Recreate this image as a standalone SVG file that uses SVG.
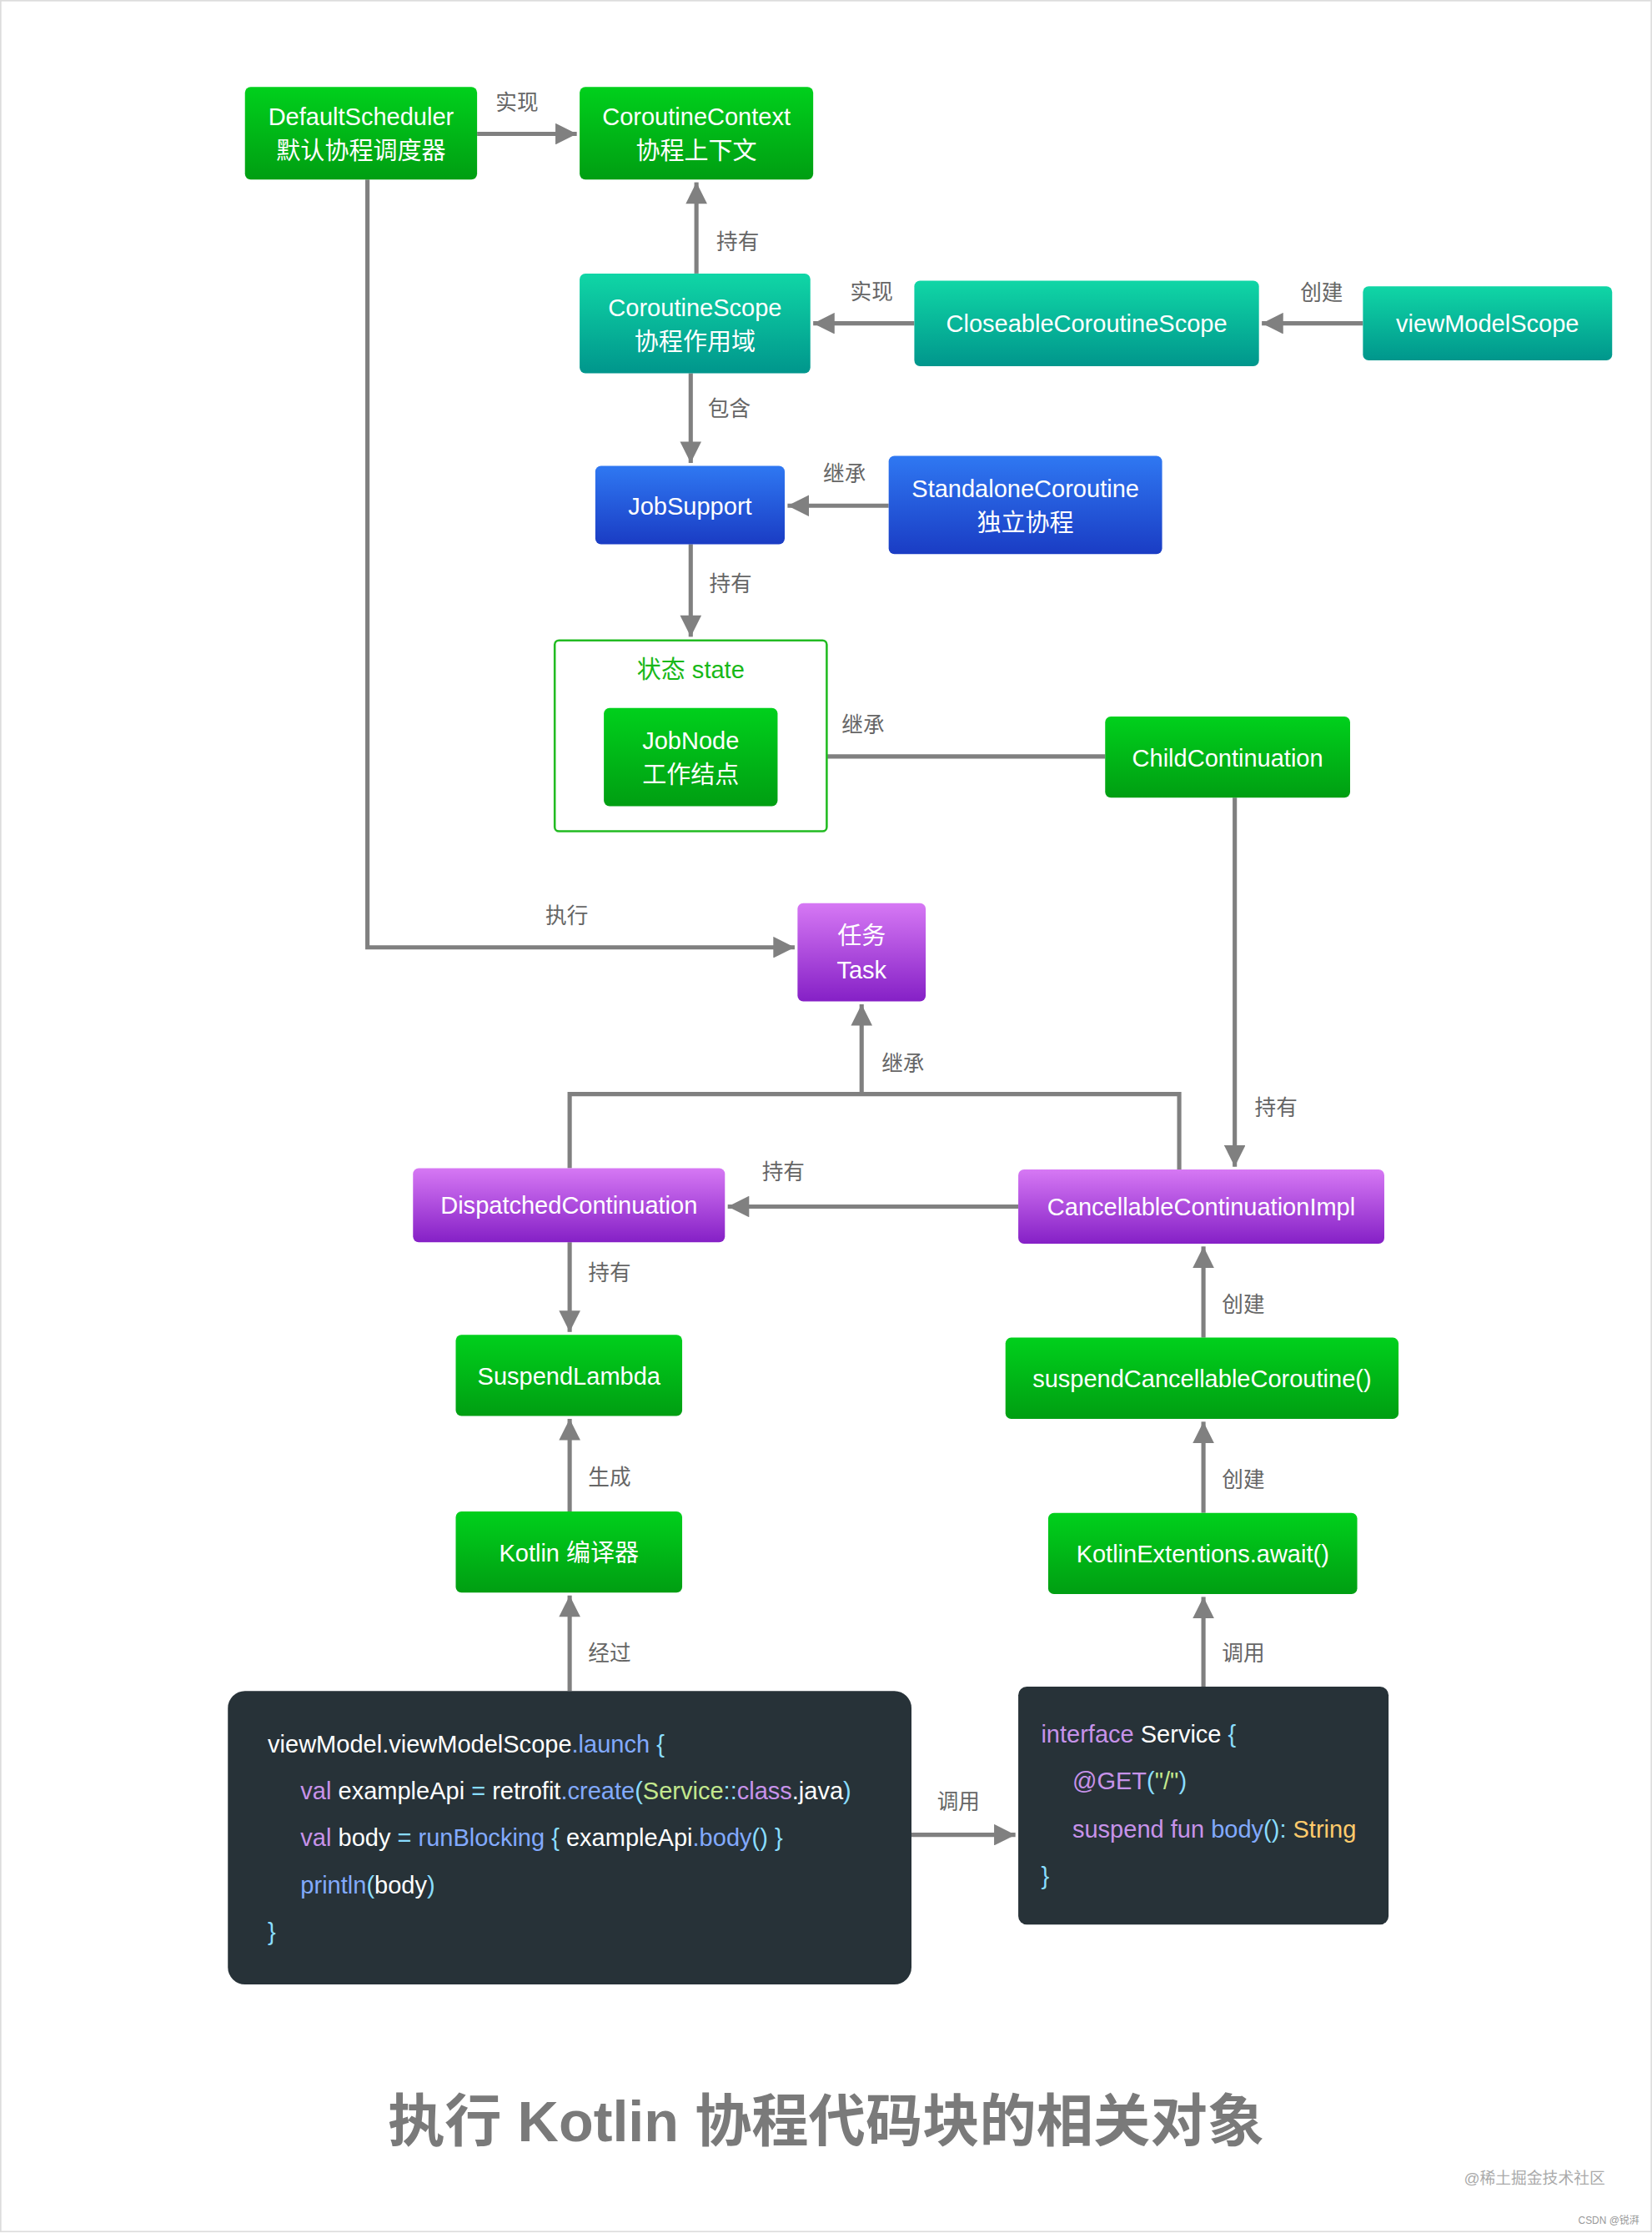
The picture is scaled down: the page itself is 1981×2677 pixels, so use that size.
<svg xmlns="http://www.w3.org/2000/svg" width="1981" height="2677" viewBox="0 0 1981 2677">
<style>
.nt{font-family:"Liberation Sans","Noto Sans CJK SC",sans-serif;font-size:17px;fill:#fff;text-anchor:middle}
.lb{font-family:"Liberation Sans","Noto Sans CJK SC",sans-serif;font-size:15px;fill:#666}
.cd{font-family:"Liberation Sans","Noto Sans CJK SC",sans-serif;font-size:17px;fill:#fff}
.w{fill:#fff}.p{fill:#c792ea}.b{fill:#82aaff}.c{fill:#89ddff}.g{fill:#c3e88d}.y{fill:#ffcb6b}
.ln{fill:none;stroke:#808080;stroke-width:3}
</style>
<defs>
<linearGradient id="gg" x1="0" y1="0" x2="0" y2="1"><stop offset="0" stop-color="#00d01c"/><stop offset="1" stop-color="#009e12"/></linearGradient>
<linearGradient id="gt" x1="0" y1="0" x2="0" y2="1"><stop offset="0" stop-color="#10d6a6"/><stop offset="1" stop-color="#00968c"/></linearGradient>
<linearGradient id="gb" x1="0" y1="0" x2="0" y2="1"><stop offset="0" stop-color="#2f78f2"/><stop offset="1" stop-color="#1a3cc4"/></linearGradient>
<linearGradient id="gp" x1="0" y1="0" x2="0" y2="1"><stop offset="0" stop-color="#d678f4"/><stop offset="1" stop-color="#8520c6"/></linearGradient>
<marker id="ar" viewBox="0 0 10 10" refX="10" refY="5" markerWidth="5.5" markerHeight="5" orient="auto" markerUnits="strokeWidth"><path d="M0,0L10,5L0,10z" fill="#808080"/></marker>
</defs>
<rect x="0" y="0" width="1981" height="2677" fill="#fff"/>
<g transform="scale(1.7078)">
<rect x="0.5" y="0.5" width="1159" height="1566" fill="none" stroke="#ddd"/>
<g id="connectors">
<path class="ln" d="M335,94H405" marker-end="url(#ar)"/>
<path class="ln" d="M489,192V128" marker-end="url(#ar)"/>
<path class="ln" d="M642,227H571" marker-end="url(#ar)"/>
<path class="ln" d="M957,227H886" marker-end="url(#ar)"/>
<path class="ln" d="M485,262V325" marker-end="url(#ar)"/>
<path class="ln" d="M624,355H553" marker-end="url(#ar)"/>
<path class="ln" d="M485,382V447" marker-end="url(#ar)"/>
<path class="ln" d="M776,531H548" marker-end="url(#ar)"/>
<path class="ln" d="M258,126V665H558" marker-end="url(#ar)"/>
<path class="ln" d="M400,820V768H828V821"/>
<path class="ln" d="M605,768V705" marker-end="url(#ar)"/>
<path class="ln" d="M867,560V819" marker-end="url(#ar)"/>
<path class="ln" d="M715,847H511" marker-end="url(#ar)"/>
<path class="ln" d="M400,872V935" marker-end="url(#ar)"/>
<path class="ln" d="M400,1061V996" marker-end="url(#ar)"/>
<path class="ln" d="M400,1187V1120" marker-end="url(#ar)"/>
<path class="ln" d="M845,939V875" marker-end="url(#ar)"/>
<path class="ln" d="M845,1062V998" marker-end="url(#ar)"/>
<path class="ln" d="M845,1184V1121" marker-end="url(#ar)"/>
<path class="ln" d="M640,1288H713" marker-end="url(#ar)"/>
<text class="lb" x="348" y="77">实现</text>
<text class="lb" x="503" y="175">持有</text>
<text class="lb" x="597" y="210">实现</text>
<text class="lb" x="913" y="211">创建</text>
<text class="lb" x="497" y="292">包含</text>
<text class="lb" x="578" y="338">继承</text>
<text class="lb" x="498" y="415">持有</text>
<text class="lb" x="591" y="514">继承</text>
<text class="lb" x="383" y="648">执行</text>
<text class="lb" x="619" y="752">继承</text>
<text class="lb" x="881" y="783">持有</text>
<text class="lb" x="535" y="828">持有</text>
<text class="lb" x="413" y="899">持有</text>
<text class="lb" x="413" y="1042">生成</text>
<text class="lb" x="413" y="1166">经过</text>
<text class="lb" x="858" y="921">创建</text>
<text class="lb" x="858" y="1044">创建</text>
<text class="lb" x="858" y="1166">调用</text>
<text class="lb" x="658" y="1270">调用</text>
</g>
<g id="defaultScheduler"><rect x="172" y="61" width="163" height="65" rx="4" fill="url(#gg)"/><text class="nt" x="253.5" y="88">DefaultScheduler</text><text class="nt" x="253.5" y="112">默认协程调度器</text></g>
<g id="coroutineContext"><rect x="407" y="61" width="164" height="65" rx="4" fill="url(#gg)"/><text class="nt" x="489" y="88">CoroutineContext</text><text class="nt" x="489" y="112">协程上下文</text></g>
<g id="coroutineScope"><rect x="407" y="192" width="162" height="70" rx="4" fill="url(#gt)"/><text class="nt" x="488" y="222">CoroutineScope</text><text class="nt" x="488" y="246">协程作用域</text></g>
<g id="closeable"><rect x="642" y="197" width="242" height="60" rx="4" fill="url(#gt)"/><text class="nt" x="763" y="233">CloseableCoroutineScope</text></g>
<g id="viewModelScope"><rect x="957" y="201" width="175" height="52" rx="4" fill="url(#gt)"/><text class="nt" x="1044.5" y="233">viewModelScope</text></g>
<g id="jobSupport"><rect x="418" y="327" width="133" height="55" rx="4" fill="url(#gb)"/><text class="nt" x="484.5" y="361">JobSupport</text></g>
<g id="standalone"><rect x="624" y="320" width="192" height="69" rx="4" fill="url(#gb)"/><text class="nt" x="720" y="349">StandaloneCoroutine</text><text class="nt" x="720" y="373">独立协程</text></g>
<g id="state"><rect x="389.5" y="449.5" width="191" height="134" rx="3" fill="#fff" stroke="#22bb22" stroke-width="1.5"/><text class="nt" x="485" y="476" style="fill:#18b818">状态 state</text></g>
<g id="jobNode"><rect x="424" y="497" width="122" height="69" rx="4" fill="url(#gg)"/><text class="nt" x="485" y="526">JobNode</text><text class="nt" x="485" y="550">工作结点</text></g>
<g id="childContinuation"><rect x="776" y="503" width="172" height="57" rx="4" fill="url(#gg)"/><text class="nt" x="862" y="538">ChildContinuation</text></g>
<g id="task"><rect x="560" y="634" width="90" height="69" rx="4" fill="url(#gp)"/><text class="nt" x="605" y="663">任务</text><text class="nt" x="605" y="687">Task</text></g>
<g id="dispatched"><rect x="290" y="820" width="219" height="52" rx="4" fill="url(#gp)"/><text class="nt" x="399.5" y="852">DispatchedContinuation</text></g>
<g id="cancellable"><rect x="715" y="821" width="257" height="52" rx="4" fill="url(#gp)"/><text class="nt" x="843.5" y="853">CancellableContinuationImpl</text></g>
<g id="suspendLambda"><rect x="320" y="937" width="159" height="57" rx="4" fill="url(#gg)"/><text class="nt" x="399.5" y="972">SuspendLambda</text></g>
<g id="suspendCC"><rect x="706" y="939" width="276" height="57" rx="4" fill="url(#gg)"/><text class="nt" x="844" y="974">suspendCancellableCoroutine()</text></g>
<g id="kotlinCompiler"><rect x="320" y="1061" width="159" height="57" rx="4" fill="url(#gg)"/><text class="nt" x="399.5" y="1096">Kotlin 编译器</text></g>
<g id="await"><rect x="736" y="1062" width="217" height="57" rx="4" fill="url(#gg)"/><text class="nt" x="844.5" y="1097">KotlinExtentions.await()</text></g>
<g id="code1"><rect x="160" y="1187" width="480" height="206" rx="12" fill="#273238"/>
<text class="cd" x="188" y="1230"><tspan class="w">viewModel.viewModelScope</tspan><tspan class="b">.launch</tspan><tspan class="c"> {</tspan></text>
<text class="cd" x="211" y="1263"><tspan class="p">val</tspan><tspan class="w"> exampleApi </tspan><tspan class="c">=</tspan><tspan class="w"> retrofit</tspan><tspan class="b">.create</tspan><tspan class="c">(</tspan><tspan class="g">Service</tspan><tspan class="c">::</tspan><tspan class="p">class</tspan><tspan class="w">.java</tspan><tspan class="c">)</tspan></text>
<text class="cd" x="211" y="1296"><tspan class="p">val</tspan><tspan class="w"> body </tspan><tspan class="c">=</tspan><tspan class="b"> runBlocking</tspan><tspan class="c"> { </tspan><tspan class="w">exampleApi</tspan><tspan class="b">.body</tspan><tspan class="c">() }</tspan></text>
<text class="cd" x="211" y="1329"><tspan class="b">println</tspan><tspan class="c">(</tspan><tspan class="w">body</tspan><tspan class="c">)</tspan></text>
<text class="cd" x="188" y="1362"><tspan class="c">}</tspan></text>
</g>
<g id="code2"><rect x="715" y="1184" width="260" height="167" rx="6" fill="#273238"/>
<text class="cd" x="731" y="1223"><tspan class="p">interface</tspan><tspan class="w"> Service </tspan><tspan class="c">{</tspan></text>
<text class="cd" x="753" y="1256"><tspan class="p">@GET</tspan><tspan class="c">(</tspan><tspan class="g">"/"</tspan><tspan class="c">)</tspan></text>
<text class="cd" x="753" y="1290"><tspan class="p">suspend fun</tspan><tspan class="b"> body</tspan><tspan class="c">(): </tspan><tspan class="y">String</tspan></text>
<text class="cd" x="731" y="1323"><tspan class="c">}</tspan></text>
</g>
<text x="580" y="1503" text-anchor="middle" style="font-family:'Liberation Sans','Noto Sans CJK SC',sans-serif;font-size:40px;font-weight:bold;fill:#7a7a7a">执行 Kotlin 协程代码块的相关对象</text>
<text x="1127" y="1533" text-anchor="end" style="font-family:'Liberation Sans','Noto Sans CJK SC',sans-serif;font-size:11px;fill:#aaa">@稀土掘金技术社区</text>
<text x="1151" y="1561" text-anchor="end" style="font-family:'Liberation Sans','Noto Sans CJK SC',sans-serif;font-size:7px;fill:#999">CSDN @锐湃</text>
</g>
</svg>
